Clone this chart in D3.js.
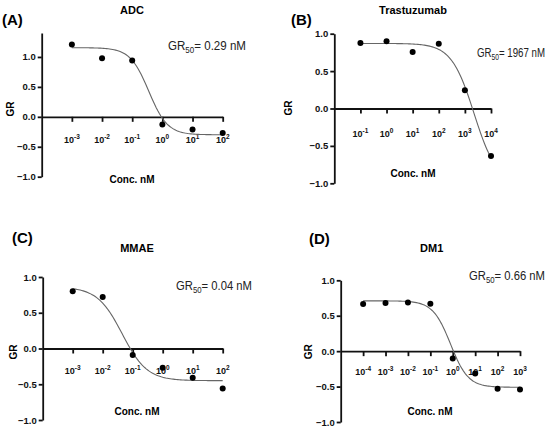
<!DOCTYPE html>
<html>
<head>
<meta charset="utf-8">
<script src="https://cdn.jsdelivr.net/npm/d3@7.9.0/dist/d3.min.js"></script>
<style>
  body { margin: 0; background: #fff; }
  svg { font-family: "Liberation Sans", Arial, sans-serif; }
  .axis path, .axis line { stroke: #111; stroke-width: 1.8; }
  .axis text { font-size: 9.5px; font-weight: bold; fill: #111; }
</style>
</head>
<body>
<svg id="chart" width="550" height="430"></svg>
<script>
// data
const panelLabels = ['(A)', '(B)', '(C)', '(D)'];
const titles = ['ADC', 'Trastuzumab', 'MMAE', 'DM1'];
const gr50Values = ['0.29 nM', '1967 nM', '0.04 nM', '0.66 nM'];

const concA = [1e-3, 1e-2, 1e-1, 1, 10, 100];
const grA = [1.21, 0.98, 0.94, -0.13, -0.21, -0.27];
const concB = [0.1, 1, 10, 100, 1000, 10000];
const grB = [0.875, 0.90, 0.755, 0.867, 0.244, -0.636];
const concC = [1e-3, 1e-2, 1e-1, 1, 10, 100];
const grC = [0.80, 0.72, -0.09, -0.27, -0.41, -0.56];
const concD = [1e-4, 1e-3, 1e-2, 1e-1, 1, 10, 100, 1000];
const grD = [0.666, 0.68, 0.685, 0.67, -0.103, -0.315, -0.53, -0.54];

// 4-parameter logistic fit: top, bottom, log10 EC50, hill slope
const fitA = [1.155, -0.30, -0.45, 1.4];
const fitB = [0.87, -1.0, 3.35, 1.0];
const fitC = [0.86, -0.45, -1.35, 1.05];
const fitD = [0.71, -0.51, -0.1, 1.1];

const xTickExpA = [-3, -2, -1, 0, 1, 2];
const xTickExpB = [-1, 0, 1, 2, 3, 4];
const xTickExpC = [-3, -2, -1, 0, 1, 2];
const xTickExpD = [-4, -3, -2, -1, 0, 1, 2, 3];
const yTicks = [-1, -0.5, 0, 0.5, 1];

const xDomains = [[1e-4, 1e2], [1e-2, 1e4], [1e-4, 1e2], [1e-5, 1e3]];
const yDomains = [[-1, 1.4], [-1, 1], [-1, 1], [-1, 1]];

// layout of each panel (pixels)
const panels = [
  { conc: concA, gr: grA, fit: fitA, ticks: xTickExpA,
    x0: 41.7, x1: 222.7, yBot: 176.7, yTop: 33,
    lab: [2, 24.5], title: [132, 14], gr50: [168, 49.5], gr50W: 78, grLab: [10.5, 109],
    concLab: [132, 183], tickDy: 26 },
  { conc: concB, gr: grB, fit: fitB, ticks: xTickExpB,
    x0: 334.3, x1: 491, yBot: 183.3, yTop: 33.7,
    lab: [291, 24.5], title: [413, 14], gr50: [477, 57], gr50W: 68, grLab: [288, 108],
    concLab: [413, 176.5], tickDy: 28 },
  { conc: concC, gr: grC, fit: fitC, ticks: xTickExpC,
    x0: 42.7, x1: 222.7, yBot: 420, yTop: 277,
    lab: [12, 243], title: [137, 251.5], gr50: [176, 290], gr50W: 76, grLab: [13, 352],
    concLab: [137, 415], tickDy: 25.5 },
  { conc: concD, gr: grD, fit: fitD, ticks: xTickExpD,
    x0: 340.7, x1: 520, yBot: 422, yTop: 280.3,
    lab: [309, 244], title: [431.7, 252], gr50: [469, 280], gr50W: 76, grLab: [308, 351.7],
    concLab: [430, 415], tickDy: 24 }
];

const svg = d3.select('#chart');

panels.forEach((p, i) => {
  let x = d3.scaleLog().domain(xDomains[i]).range([p.x0, p.x1]);
  let y = d3.scaleLinear().domain(yDomains[i]).range([p.yBot, p.yTop]);
  let g = svg.append('g');

  // y axis
  g.append('g')
    .attr('class', 'axis')
    .attr('transform', `translate(${p.x0},0)`)
    .call(d3.axisLeft(y).tickValues(yTicks).tickFormat(d3.format('.1f'))
      .tickSize(4).tickSizeOuter(0).tickPadding(2));

  // x axis along GR = 0
  g.append('g')
    .attr('class', 'axis')
    .attr('transform', `translate(0,${y(0)})`)
    .call(d3.axisBottom(x).tickValues(p.ticks.map((e) => Math.pow(10, e)))
      .tickFormat('').tickSize(5).tickSizeOuter(0));

  // power-of-ten tick labels
  p.ticks.forEach((e) => {
    let t = g.append('text')
      .attr('x', x(Math.pow(10, e)))
      .attr('y', y(0) + p.tickDy)
      .attr('text-anchor', 'middle')
      .attr('font-size', 9)
      .attr('font-weight', 'bold')
      .attr('fill', '#111');
    t.append('tspan').text('10');
    t.append('tspan').attr('dy', -4).attr('font-size', 6.5).text(String(e));
  });

  // fitted curve
  let [top, bottom, logEC, hill] = p.fit;
  let lo = Math.log10(d3.min(p.conc)), hi = Math.log10(d3.max(p.conc));
  let curve = d3.range(0, 101).map((k) => {
    let lx = lo + (hi - lo) * k / 100;
    return [Math.pow(10, lx), bottom + (top - bottom) / (1 + Math.pow(10, (lx - logEC) * hill))];
  });
  g.append('path')
    .datum(curve)
    .attr('fill', 'none')
    .attr('stroke', '#666')
    .attr('stroke-width', 1.1)
    .attr('d', d3.line().x((d) => x(d[0])).y((d) => y(d[1])));

  // data points
  g.selectAll('circle')
    .data(p.conc.map((c, k) => [c, p.gr[k]]))
    .join('circle')
    .attr('cx', (d) => x(d[0]))
    .attr('cy', (d) => y(d[1]))
    .attr('r', 3)
    .attr('fill', '#000');

  // texts
  g.append('text')
    .attr('x', p.lab[0]).attr('y', p.lab[1])
    .attr('font-size', 15).attr('font-weight', 'bold')
    .text(panelLabels[i]);

  g.append('text')
    .attr('x', p.title[0]).attr('y', p.title[1])
    .attr('text-anchor', 'middle')
    .attr('font-size', 11).attr('font-weight', 'bold')
    .text(titles[i]);

  g.append('text')
    .attr('transform', `translate(${p.grLab[0] + 3.5},${p.grLab[1]}) rotate(-90)`)
    .attr('text-anchor', 'middle')
    .attr('font-size', 10).attr('font-weight', 'bold')
    .text('GR');

  g.append('text')
    .attr('x', p.concLab[0]).attr('y', p.concLab[1])
    .attr('text-anchor', 'middle')
    .attr('font-size', 10).attr('font-weight', 'bold')
    .text('Conc. nM');

  // GR50 annotation, squeezed horizontally like the original condensed type
  let gg = g.append('g');
  let gt = gg.append('text')
    .attr('x', 0).attr('y', 0)
    .attr('font-size', 13).attr('fill', '#222');
  gt.append('tspan').text('GR');
  gt.append('tspan').attr('dy', 3).attr('font-size', 9).text('50');
  gt.append('tspan').attr('dy', -3).text('= ' + gr50Values[i]);
  let w = gt.node().getComputedTextLength();
  gg.attr('transform', `translate(${p.gr50[0]},${p.gr50[1]}) scale(${p.gr50W / w},1)`);
});
</script>
</body>
</html>
